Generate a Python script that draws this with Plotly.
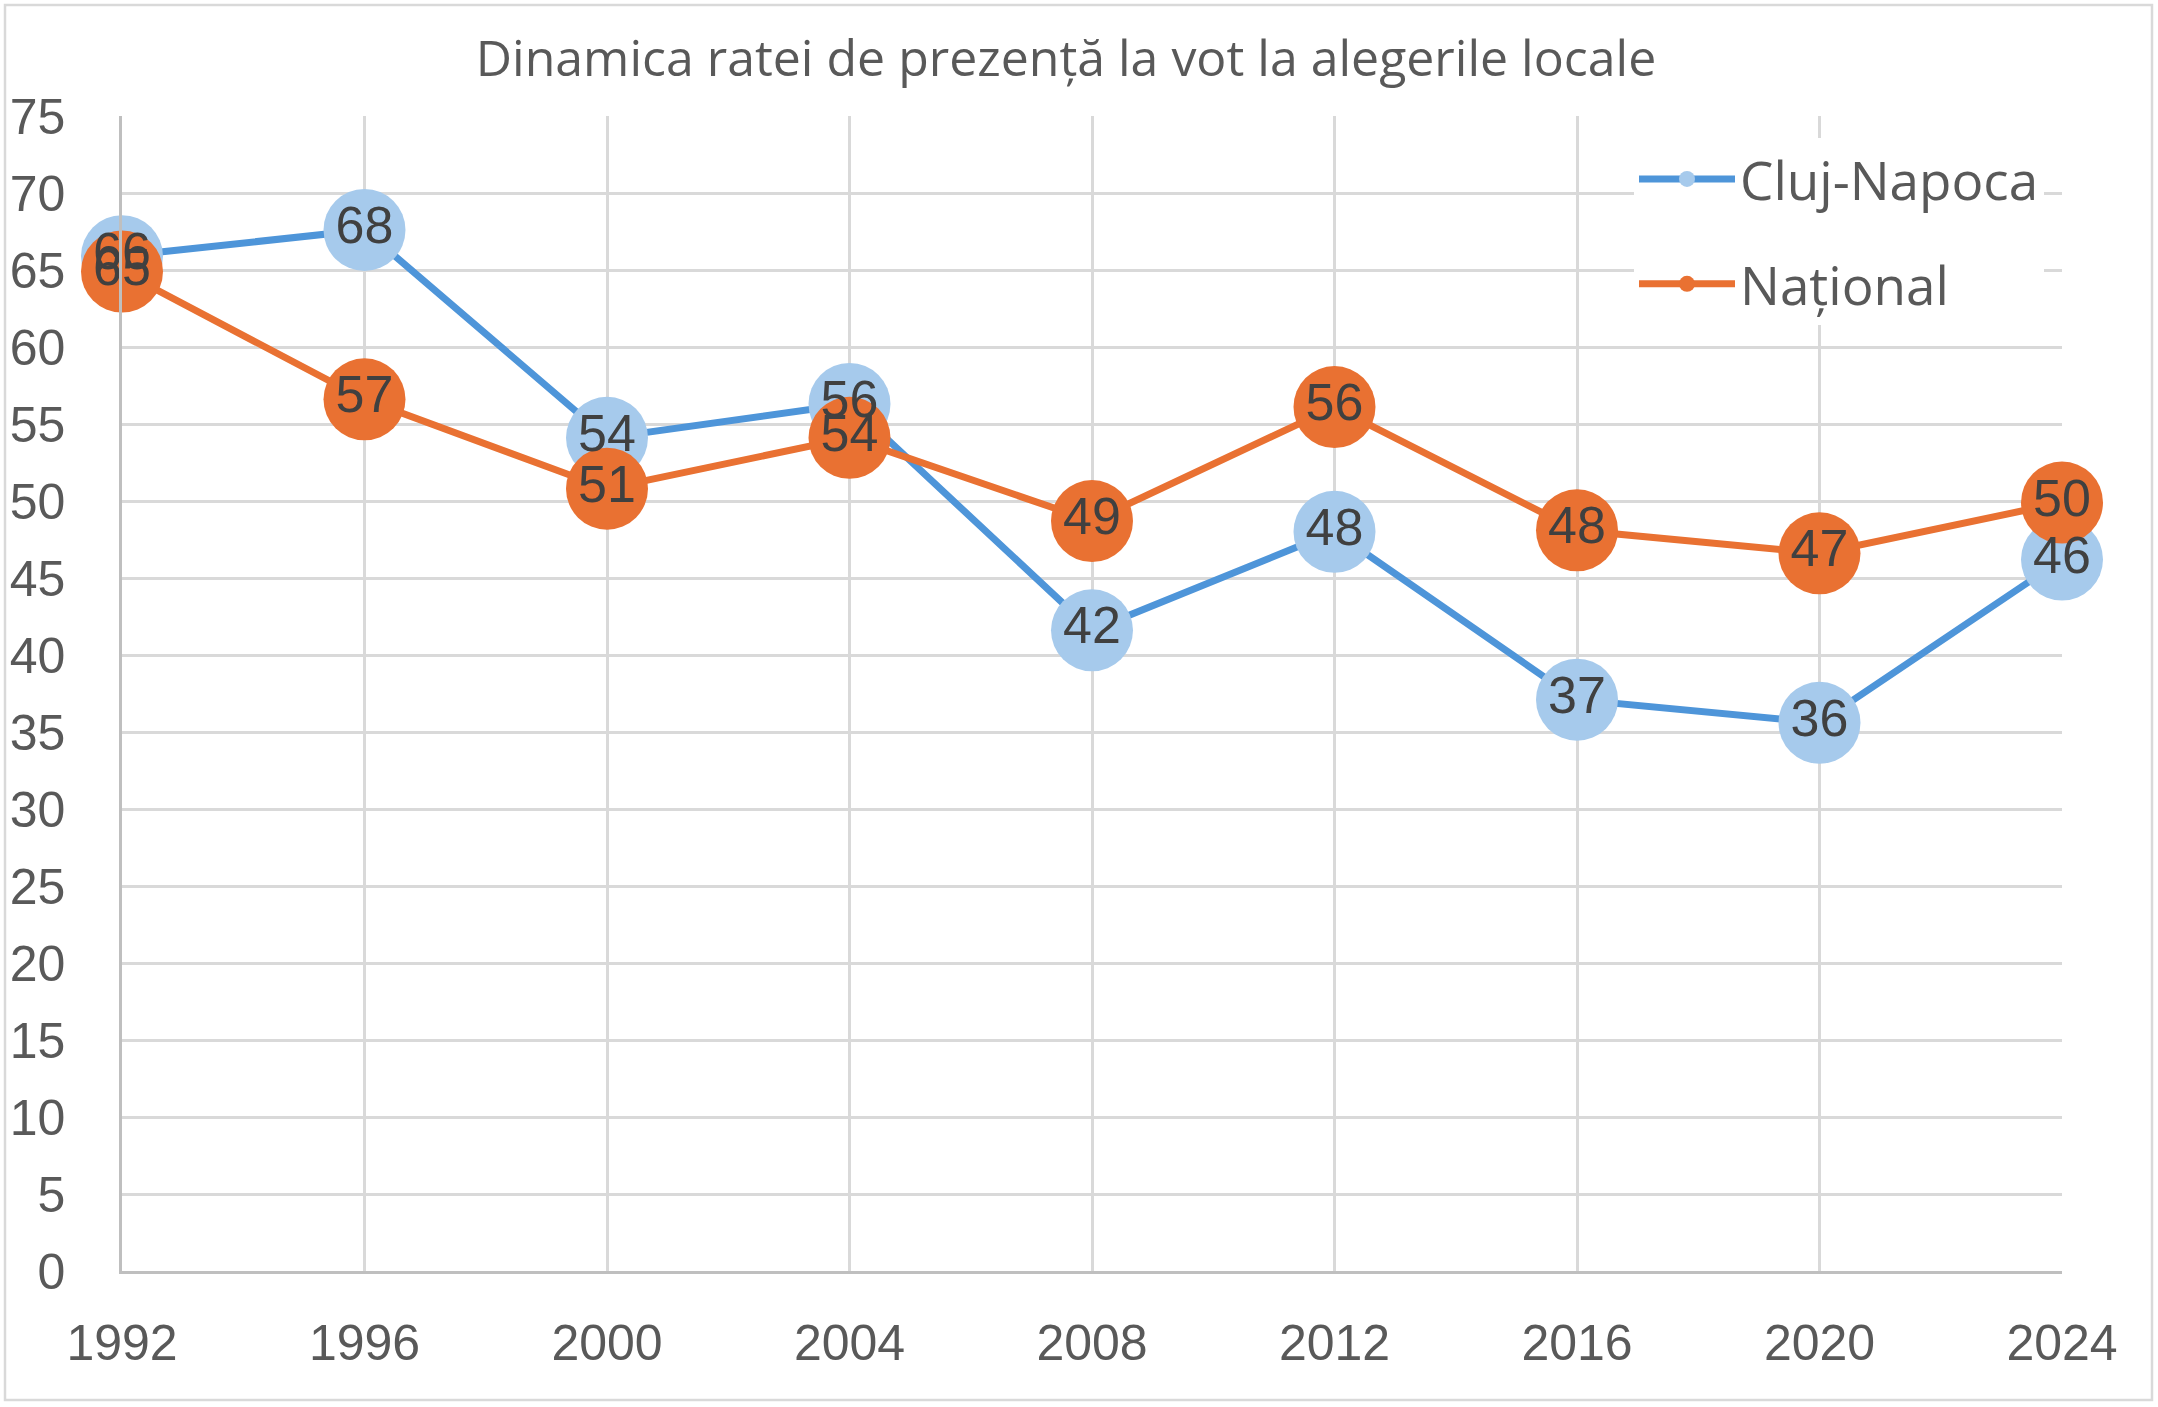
import plotly.graph_objects as go

years = [1992, 1996, 2000, 2004, 2008, 2012, 2016, 2020, 2024]
cluj_napoca = [65.9, 67.6, 54.1, 56.3, 41.6, 48.0, 37.1, 35.6, 46.2]
national = [64.9, 56.6, 50.8, 54.1, 48.7, 56.1, 48.1, 46.6, 49.9]
series_names = ["Cluj-Napoca", "Național"]
title_text = "Dinamica ratei de prezență la vot la alegerile locale"
y_ticks = list(range(0, 80, 5))

BLUE_LINE = "#4E95D9"
BLUE_MARK = "#A6CAEC"
ORANGE = "#E97132"
LABEL = "#404040"
TICK = "#595959"
GRID = "#D9D9D9"

W, H = 2158, 1407
L, R, T, B = 122, 96, 116, 136
pw, ph = W - L - R, H - T - B

fig = go.Figure()
fig.add_trace(go.Scatter(
    x=years, y=cluj_napoca, name=series_names[0], mode="lines+markers",
    line=dict(color=BLUE_LINE, width=7),
    marker=dict(color=BLUE_MARK, size=82),
    legendgroup="a", hoverinfo="skip", cliponaxis=False))
fig.add_trace(go.Scatter(
    x=years, y=national, name=series_names[1], mode="lines+markers",
    line=dict(color=ORANGE, width=7),
    marker=dict(color=ORANGE, size=82),
    legendgroup="b", hoverinfo="skip", cliponaxis=False))
for ys in (cluj_napoca, national):
    fig.add_trace(go.Scatter(
        x=years, y=ys, mode="text", texttemplate="%{y:.0f}",
        textposition="middle center",
        textfont=dict(family="Liberation Sans, Arial", size=52, color=LABEL),
        showlegend=False, hoverinfo="skip", cliponaxis=False))

def px_x(p):
    return (p - L) / pw

def px_y(p):
    return (H - B - p) / ph

fig.update_layout(
    width=W, height=H,
    margin=dict(l=L, r=R, t=T, b=B, autoexpand=False),
    paper_bgcolor="white", plot_bgcolor="white",
    title=dict(text=title_text, x=1066 / W, xanchor="center", xref="container",
               y=1 - 58 / H, yanchor="middle", yref="container",
               font=dict(family="Open Sans", size=50, color=TICK)),
    legend=dict(x=px_x(1634), y=px_y(138), xanchor="left", yanchor="top",
                bgcolor="white", font=dict(family="Open Sans", size=53, color=TICK),
                tracegroupgap=33, itemwidth=96),
    showlegend=True,
    shapes=[dict(type="rect", xref="paper", yref="paper",
                 x0=px_x(5), x1=px_x(2152), y0=px_y(1400), y1=px_y(5),
                 line=dict(color=GRID, width=2.5), layer="below")],
)
fig.update_xaxes(range=[years[0], years[-1]], tickvals=years, showgrid=True,
                 gridcolor=GRID, gridwidth=2.5, showline=True, linecolor="#BFBFBF",
                 linewidth=2.5, zeroline=False, ticks="", ticklabelstandoff=26,
                 automargin=False,
                 tickfont=dict(family="Liberation Sans, Arial", size=50, color=TICK))
fig.update_yaxes(range=[0, 75], tickvals=y_ticks, showgrid=True,
                 gridcolor=GRID, gridwidth=2.5, showline=True, linecolor="#BFBFBF",
                 linewidth=2.5, zeroline=False, ticks="", ticklabelstandoff=44,
                 automargin=False,
                 tickfont=dict(family="Liberation Sans, Arial", size=50, color=TICK))

fig.write_html("out.html")
